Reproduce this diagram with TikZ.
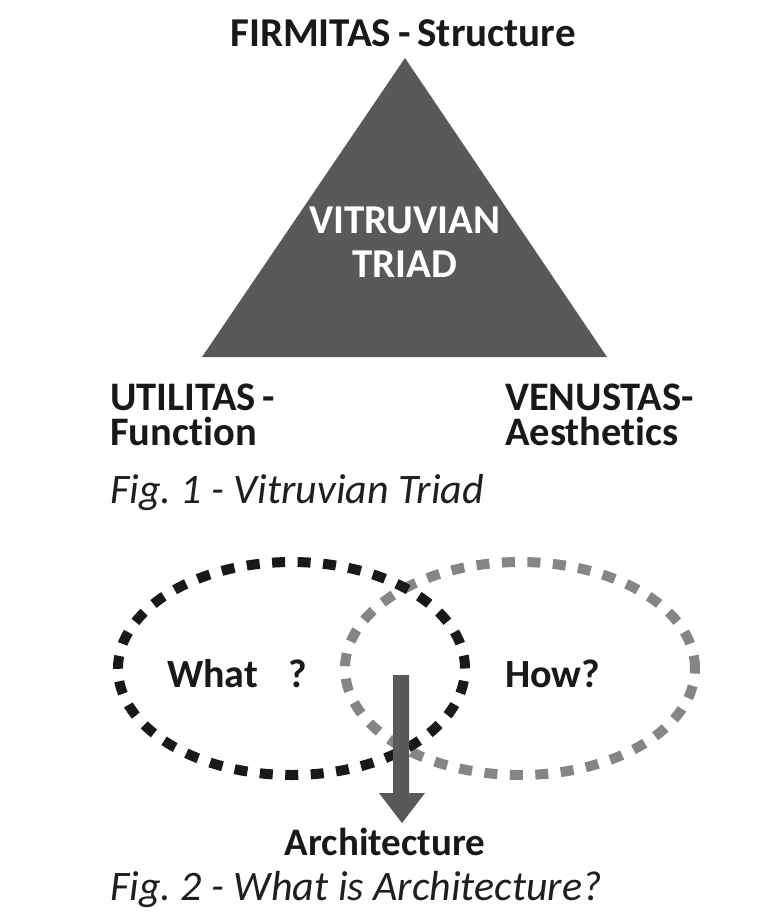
\documentclass[tikz,border=0pt]{standalone}
\usepackage{fontspec}
\setmainfont{Carlito}[Ligatures=NoCommon]
\usetikzlibrary{shapes.geometric}
\definecolor{tri}{HTML}{58595B}
\definecolor{dgray}{HTML}{858585}
\begin{document}
\frenchspacing
\begin{tikzpicture}[x=1pt,y=-1pt,
  lbl/.style={font=\fontsize{40}{40}\selectfont\bfseries, text=black!90, inner sep=0pt},
  twoline/.style={font=\fontsize{40.5}{35}\selectfont\bfseries, text=black!90, inner sep=0pt, align=left},
  figcap/.style={font=\fontsize{42}{42}\selectfont\itshape, text=black!88, inner sep=0pt},
  wlbl/.style={font=\fontsize{41}{44}\selectfont\bfseries, text=white, inner sep=0pt, align=center},
  dashring/.style={line width=10pt, dash pattern=on 13pt off 12.5pt, ellipse, inner sep=0pt}]
\useasboundingbox (0,0) rectangle (761,914);
% triangle
\coordinate (apex) at (405,58);
\coordinate (bl) at (202,357);
\coordinate (br) at (607,357);
\fill[tri] (apex) -- (bl) -- (br) -- cycle;
\node[wlbl, anchor=base] (vt) at (405,277) {VITRUVIAN\\TRIAD};
\node[lbl, font=\fontsize{41}{41}\selectfont\bfseries, anchor=base] (firm) at (403,46) {FIRMITAS\,-\,Structure};
\node[twoline, anchor=base west] (util) at (110,445) {UTILITAS\,-\\Function};
\node[twoline, anchor=base west] (ven) at (505,445) {VENUSTAS-\\Aesthetics};
\node[figcap, anchor=base west] (cap1) at (110,503) {Fig. 1 - Vitruvian Triad};
% ellipses
\node[draw=dgray, dashring, minimum width=350pt, minimum height=213pt] (howell) at (520,668.5) {};
\node[draw=black!90, dashring, minimum width=347pt, minimum height=213pt] (whatell) at (291.5,668.5) {};
\node[lbl, anchor=base west] (what) at (167,687) {What\hspace{30pt}?};
\node[lbl, anchor=base west] (how) at (505,687) {How?};
% arrow
\node[lbl, font=\fontsize{39}{39}\selectfont\bfseries, anchor=base] (arch) at (385,855) {Architecture};
\fill[tri] (393,675) -- (409,675) -- (409,793) -- (425,793) -- (402,823) -- (379,793) -- (393,793) -- cycle;
\node[figcap, anchor=base west] (cap2) at (110,900) {Fig. 2 - What is Architecture?};
\end{tikzpicture}
\end{document}
